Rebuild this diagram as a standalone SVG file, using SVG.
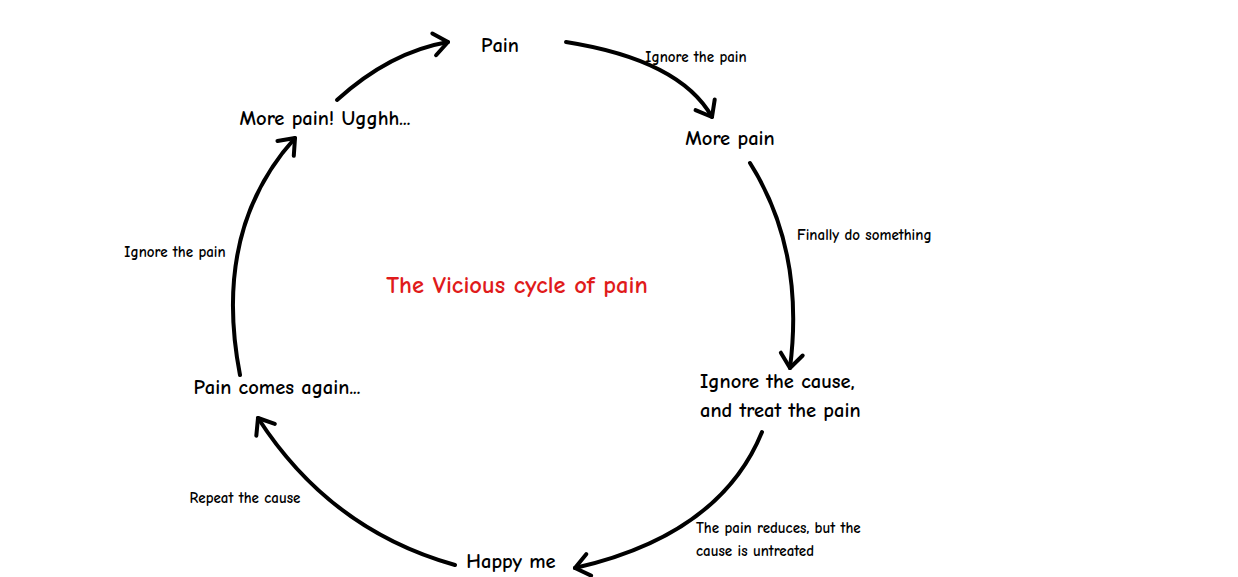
<svg xmlns="http://www.w3.org/2000/svg" width="1238" height="577" viewBox="0 0 1238 577">
<style>
text{font-family:"Comic Neue","Open Sans","Liberation Sans",sans-serif;fill:#000;font-weight:bold}
.n{font-size:20.5px}
.l{font-size:15px}
.t{font-size:24.5px;fill:#e01b1b}
.c{fill:none;stroke:#000;stroke-width:4;stroke-linecap:round;marker-end:url(#a)}
</style>
<defs>
<marker id="a" markerUnits="userSpaceOnUse" markerWidth="40" markerHeight="40" refX="0" refY="0" viewBox="-20 -20 40 40" orient="auto">
<path d="M-14,-11 L0,0 L-14,11" fill="none" stroke="#000" stroke-width="4" stroke-linecap="round" stroke-linejoin="round"/>
</marker>
</defs>
<rect width="1238" height="577" fill="#fff"/>
<g id="connectors">
<path class="c" d="M566,42 Q680,60 712,117"/>
<path class="c" d="M750,163 Q805,250 790,368"/>
<path class="c" d="M762,432 Q720,535 575,568"/>
<path class="c" d="M455,565 Q330,530 258,418"/>
<path class="c" d="M240,375 Q212,230 295,138"/>
<path class="c" d="M337,100 Q390,52 448,42"/>
</g>
<g id="n1"><text class="n" x="500" y="52" text-anchor="middle">Pain</text></g>
<g id="n2"><text class="n" x="730" y="145" text-anchor="middle">More pain</text></g>
<g id="n3"><text class="n" x="700" y="388">Ignore the cause,</text><text class="n" x="700" y="417">and treat the pain</text></g>
<g id="n4"><text class="n" x="511" y="568" text-anchor="middle">Happy me</text></g>
<g id="n5"><text class="n" x="277" y="394" text-anchor="middle">Pain comes again...</text></g>
<g id="n6"><text class="n" x="325" y="125" text-anchor="middle">More pain! Ugghh...</text></g>
<g id="title"><text class="t" x="517" y="293" text-anchor="middle">The Vicious cycle of pain</text></g>
<g id="labels">
<text class="l" x="696" y="62" text-anchor="middle">Ignore the pain</text>
<text class="l" x="797" y="240">Finally do something</text>
<text class="l" x="696" y="533">The pain reduces, but the</text>
<text class="l" x="696" y="556">cause is untreated</text>
<text class="l" x="245" y="503" text-anchor="middle">Repeat the cause</text>
<text class="l" x="175" y="257" text-anchor="middle">Ignore the pain</text>
</g>
</svg>
